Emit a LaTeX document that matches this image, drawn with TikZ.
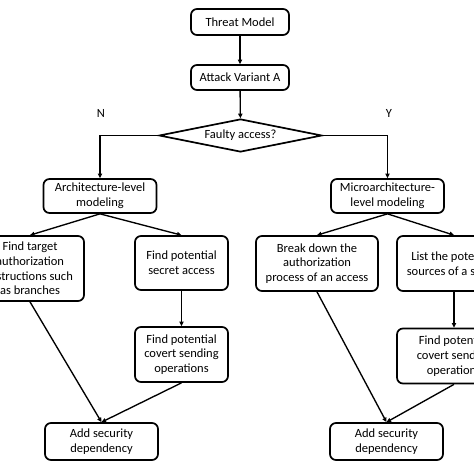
\documentclass[tikz,border=0pt]{standalone}
\usepackage{fontspec}
\setmainfont{Carlito}
\usetikzlibrary{shapes.geometric,arrows.meta}
\begin{document}
\begin{tikzpicture}[x=1pt,y=-1pt,
  box/.style={draw, line width=1.7pt, rounded corners=6pt, align=center, inner sep=0pt,
    font=\fontsize{12.5}{14.7}\selectfont},
  conn/.style={line width=1.35pt, -{Triangle[length=4.5pt,width=4.2pt]}},
  lbl/.style={font=\fontsize{12.5}{14.7}\selectfont}]
\useasboundingbox (0,0) rectangle (474,474);
\clip (0,0) rectangle (474,474);
\fill[white] (0,0) rectangle (474,474);
\node[box, minimum width=98pt, minimum height=26pt] (tm) at (240,22) {Threat Model};
\node[box, minimum width=98pt, minimum height=25pt] (av) at (240,77.5) {Attack Variant A};
\node[draw, line width=1.7pt, diamond, minimum width=163pt, minimum height=33pt, inner sep=0pt, aspect=5,
  font=\fontsize{12.5}{14.7}\selectfont] (fa) at (240.5,135.5) {Faulty access?};
\node[lbl] (n) at (101,113) {N};
\node[lbl] (y) at (389,113) {Y};
\node[box, minimum width=113pt, minimum height=34pt] (arch) at (100,196) {Architecture-level\\modeling};
\node[box, minimum width=113pt, minimum height=34pt] (micro) at (387.5,196) {Microarchitecture-\\level modeling};
\node[box, minimum width=108pt, minimum height=65pt] (ft) at (30,268.5) {Find target\\authorization\\instructions such\\as branches};
\node[box, minimum width=93pt, minimum height=54pt] (fs) at (181.5,263) {Find potential\\secret access};
\node[box, minimum width=93pt, minimum height=55pt] (fc) at (181.5,354.5) {Find potential\\covert sending\\operations};
\node[box, minimum width=113pt, minimum height=37pt] (asl) at (101.5,441.5) {Add security\\dependency};
\node[box, minimum width=122pt, minimum height=55pt] (bd) at (317,263.5) {Break down the\\authorization\\process of an access};
\node[box, minimum width=114pt, minimum height=55pt] (lp) at (454,263.5) {List the potential\\sources of a secret};
\node[box, minimum width=114pt, minimum height=55pt] (fcr) at (454,356) {Find potential\\covert sending\\operations};
\node[box, minimum width=113pt, minimum height=37pt] (asr) at (386.5,441.5) {Add security\\dependency};
\draw[conn] (tm) -- (av);
\draw[conn] (av) -- (fa);
\draw[conn] (fa.west) -| (arch.north);
\draw[conn] (fa.east) -| (micro.north);
\draw[conn] (arch.south) -- (ft.north);
\draw[conn] (arch.south) -- (fs.north);
\draw[conn] (micro.south) -- (bd.north);
\draw[conn] (micro.south) -- (lp.north);
\draw[conn] (fs) -- (fc);
\draw[conn] (lp) -- (fcr);
\draw[conn] (ft.south) -- (asl.north);
\draw[conn] (fc.south) -- (asl.north);
\draw[conn] (bd.south) -- (asr.north);
\draw[conn] (fcr.south) -- (asr.north);
\end{tikzpicture}
\end{document}
